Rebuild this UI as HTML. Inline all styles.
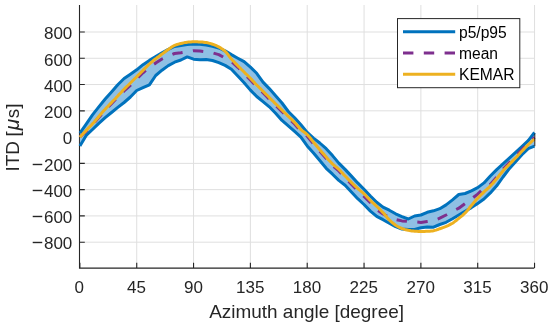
<!DOCTYPE html><html><head><meta charset="utf-8"><style>html,body{margin:0;padding:0;background:#fff}svg{display:block}</style></head><body><svg width="550" height="326" viewBox="0 0 550 326">
<rect width="550" height="326" fill="#fff"/>
<path d="M136.73 5.0V268.1M193.56 5.0V268.1M250.39 5.0V268.1M307.22 5.0V268.1M364.05 5.0V268.1M420.88 5.0V268.1M477.71 5.0V268.1M534.54 5.0V268.1M79.5 242.20H534.3M79.5 215.92H534.3M79.5 189.65H534.3M79.5 163.37H534.3M79.5 137.10H534.3M79.5 110.83H534.3M79.5 84.55H534.3M79.5 58.28H534.3M79.5 32.00H534.3" stroke="#dfdfdf" stroke-width="1" fill="none"/>
<path d="M79.5 5.0V268.1H534.3M79.90 268.1v-5.3M136.73 268.1v-5.3M193.56 268.1v-5.3M250.39 268.1v-5.3M307.22 268.1v-5.3M364.05 268.1v-5.3M420.88 268.1v-5.3M477.71 268.1v-5.3M534.54 268.1v-5.3M79.5 242.20h5.3M79.5 215.92h5.3M79.5 189.65h5.3M79.5 163.37h5.3M79.5 137.10h5.3M79.5 110.83h5.3M79.5 84.55h5.3M79.5 58.28h5.3M79.5 32.00h5.3" stroke="#262626" stroke-width="1.1" fill="none"/>
<polygon points="79.9,133.1 86.2,124.1 92.5,114.9 98.8,106.9 105.2,99.0 111.5,91.9 117.8,84.8 124.1,78.5 130.4,74.2 136.7,69.8 143.0,64.7 149.4,60.4 155.7,56.6 162.0,52.8 168.3,49.4 174.6,46.5 180.9,45.4 187.2,44.5 193.6,43.9 199.9,44.2 206.2,45.0 212.5,46.2 218.8,48.0 225.1,50.8 231.4,54.6 237.8,58.2 244.1,61.6 250.4,67.1 256.7,73.3 263.0,82.1 269.3,88.6 275.6,95.8 282.0,103.0 288.3,111.5 294.6,117.8 300.9,124.8 307.2,132.4 313.5,138.1 319.8,143.0 326.2,148.7 332.5,155.6 338.8,163.1 345.1,169.4 351.4,176.1 357.7,182.9 364.0,189.2 370.4,196.0 376.7,202.3 383.0,207.1 389.3,210.2 395.6,213.8 401.9,216.7 408.3,219.0 414.6,216.0 420.9,215.0 427.2,212.3 433.5,210.8 439.8,208.7 446.1,204.9 452.5,199.9 458.8,194.5 465.1,193.5 471.4,190.9 477.7,187.6 484.0,182.9 490.3,176.0 496.7,169.6 503.0,163.8 509.3,158.1 515.6,152.4 521.9,146.5 528.2,140.6 534.5,132.5 534.5,146.2 528.2,148.6 521.9,154.8 515.6,161.8 509.3,168.7 503.0,177.0 496.7,185.8 490.3,192.9 484.0,199.0 477.7,203.4 471.4,207.6 465.1,211.2 458.8,215.0 452.5,218.8 446.1,222.3 439.8,224.5 433.5,227.2 427.2,226.9 420.9,227.8 414.6,229.4 408.3,229.4 401.9,229.0 395.6,226.7 389.3,223.2 383.0,219.7 376.7,216.4 370.4,211.1 364.0,204.5 357.7,198.7 351.4,192.0 345.1,185.2 338.8,180.4 332.5,174.2 326.2,168.3 319.8,160.5 313.5,153.0 307.2,145.9 300.9,137.1 294.6,131.4 288.3,125.9 282.0,120.4 275.6,113.2 269.3,106.8 263.0,101.7 256.7,96.5 250.4,90.1 244.1,82.7 237.8,76.0 231.4,69.2 225.1,65.4 218.8,62.6 212.5,60.5 206.2,59.5 199.9,59.7 193.6,59.2 187.2,56.9 180.9,60.0 174.6,62.2 168.3,65.6 162.0,70.2 155.7,75.5 149.4,84.8 143.0,87.6 136.7,90.5 130.4,97.0 124.1,102.5 117.8,107.4 111.5,112.5 105.2,117.7 98.8,123.4 92.5,129.5 86.2,135.4 79.9,146.0" fill="#8fc0e4"/>
<polyline points="79.9,133.1 86.2,124.1 92.5,114.9 98.8,106.9 105.2,99.0 111.5,91.9 117.8,84.8 124.1,78.5 130.4,74.2 136.7,69.8 143.0,64.7 149.4,60.4 155.7,56.6 162.0,52.8 168.3,49.4 174.6,46.5 180.9,45.4 187.2,44.5 193.6,43.9 199.9,44.2 206.2,45.0 212.5,46.2 218.8,48.0 225.1,50.8 231.4,54.6 237.8,58.2 244.1,61.6 250.4,67.1 256.7,73.3 263.0,82.1 269.3,88.6 275.6,95.8 282.0,103.0 288.3,111.5 294.6,117.8 300.9,124.8 307.2,132.4 313.5,138.1 319.8,143.0 326.2,148.7 332.5,155.6 338.8,163.1 345.1,169.4 351.4,176.1 357.7,182.9 364.0,189.2 370.4,196.0 376.7,202.3 383.0,207.1 389.3,210.2 395.6,213.8 401.9,216.7 408.3,219.0 414.6,216.0 420.9,215.0 427.2,212.3 433.5,210.8 439.8,208.7 446.1,204.9 452.5,199.9 458.8,194.5 465.1,193.5 471.4,190.9 477.7,187.6 484.0,182.9 490.3,176.0 496.7,169.6 503.0,163.8 509.3,158.1 515.6,152.4 521.9,146.5 528.2,140.6 534.5,132.5" fill="none" stroke="#0072bd" stroke-width="3.0" stroke-linejoin="round"/>
<polyline points="79.9,146.0 86.2,135.4 92.5,129.5 98.8,123.4 105.2,117.7 111.5,112.5 117.8,107.4 124.1,102.5 130.4,97.0 136.7,90.5 143.0,87.6 149.4,84.8 155.7,75.5 162.0,70.2 168.3,65.6 174.6,62.2 180.9,60.0 187.2,56.9 193.6,59.2 199.9,59.7 206.2,59.5 212.5,60.5 218.8,62.6 225.1,65.4 231.4,69.2 237.8,76.0 244.1,82.7 250.4,90.1 256.7,96.5 263.0,101.7 269.3,106.8 275.6,113.2 282.0,120.4 288.3,125.9 294.6,131.4 300.9,137.1 307.2,145.9 313.5,153.0 319.8,160.5 326.2,168.3 332.5,174.2 338.8,180.4 345.1,185.2 351.4,192.0 357.7,198.7 364.0,204.5 370.4,211.1 376.7,216.4 383.0,219.7 389.3,223.2 395.6,226.7 401.9,229.0 408.3,229.4 414.6,229.4 420.9,227.8 427.2,226.9 433.5,227.2 439.8,224.5 446.1,222.3 452.5,218.8 458.8,215.0 465.1,211.2 471.4,207.6 477.7,203.4 484.0,199.0 490.3,192.9 496.7,185.8 503.0,177.0 509.3,168.7 515.6,161.8 521.9,154.8 528.2,148.6 534.5,146.2" fill="none" stroke="#0072bd" stroke-width="3.0" stroke-linejoin="round"/>
<polyline points="79.9,137.0 86.2,131.2 92.5,124.8 98.8,117.5 105.2,110.2 111.5,103.6 117.8,97.0 124.1,91.0 130.4,85.3 136.7,79.0 143.0,72.8 149.4,67.0 155.7,63.1 162.0,59.0 168.3,56.2 174.6,53.5 180.9,52.7 187.2,51.7 193.6,50.7 199.9,51.1 206.2,51.8 212.5,52.8 218.8,54.6 225.1,58.0 231.4,61.5 237.8,67.3 244.1,73.6 250.4,79.9 256.7,86.6 263.0,92.8 269.3,99.2 275.6,105.4 282.0,111.6 288.3,117.9 294.6,124.0 300.9,131.2 307.2,136.2 313.5,143.8 319.8,151.3 326.2,158.6 332.5,165.5 338.8,170.9 345.1,177.6 351.4,184.2 357.7,190.7 364.0,196.4 370.4,202.6 376.7,209.6 383.0,213.9 389.3,217.2 395.6,219.5 401.9,220.9 408.3,221.5 414.6,221.9 420.9,222.4 427.2,221.6 433.5,220.7 439.8,218.2 446.1,215.0 452.5,211.4 458.8,208.2 465.1,203.6 471.4,199.0 477.7,194.1 484.0,188.1 490.3,184.4 496.7,177.1 503.0,169.3 509.3,162.8 515.6,156.4 521.9,149.6 528.2,143.1 534.5,137.4" fill="none" stroke="#7e2f8e" stroke-width="3.0" stroke-dasharray="10.42 10.42" stroke-dashoffset="0" stroke-linejoin="round"/>
<polyline points="79.9,137.2 81.2,135.8 82.4,134.5 83.7,133.1 85.0,131.7 86.2,130.4 87.5,129.1 88.7,127.8 90.0,126.5 91.3,125.2 92.5,123.8 93.8,122.4 95.1,120.9 96.3,119.5 97.6,118.0 98.8,116.5 100.1,115.0 101.4,113.5 102.6,112.1 103.9,110.6 105.2,109.2 106.4,107.8 107.7,106.5 108.9,105.2 110.2,103.9 111.5,102.6 112.7,101.3 114.0,100.0 115.3,98.7 116.5,97.3 117.8,96.0 119.0,94.6 120.3,93.3 121.6,91.9 122.8,90.5 124.1,89.2 125.4,87.9 126.6,86.7 127.9,85.5 129.2,84.2 130.4,83.0 131.7,81.7 132.9,80.5 134.2,79.2 135.5,78.0 136.7,76.7 138.0,75.4 139.3,74.2 140.5,72.9 141.8,71.7 143.0,70.4 144.3,69.1 145.6,67.8 146.8,66.5 148.1,65.2 149.4,64.0 150.6,62.9 151.9,61.8 153.1,60.8 154.4,59.8 155.7,58.8 156.9,57.8 158.2,56.9 159.5,56.0 160.7,55.0 162.0,54.1 163.3,53.1 164.5,52.2 165.8,51.2 167.0,50.3 168.3,49.4 169.6,48.5 170.8,47.6 172.1,46.8 173.4,46.0 174.6,45.4 175.9,44.9 177.1,44.5 178.4,44.1 179.7,43.8 180.9,43.5 182.2,43.2 183.5,42.9 184.7,42.6 186.0,42.4 187.2,42.2 188.5,42.1 189.8,42.0 191.0,41.9 192.3,41.8 193.6,41.8 194.8,41.8 196.1,41.8 197.3,41.8 198.6,41.9 199.9,41.9 201.1,42.0 202.4,42.1 203.7,42.2 204.9,42.4 206.2,42.6 207.5,42.8 208.7,43.1 210.0,43.4 211.2,43.8 212.5,44.2 213.8,44.6 215.0,45.1 216.3,45.7 217.6,46.3 218.8,46.9 220.1,47.6 221.3,48.4 222.6,49.3 223.9,50.2 225.1,51.3 226.4,52.6 227.7,54.2 228.9,55.9 230.2,57.6 231.4,59.1 232.7,60.5 234.0,61.8 235.2,63.1 236.5,64.4 237.8,65.7 239.0,67.0 240.3,68.2 241.5,69.5 242.8,70.7 244.1,72.0 245.3,73.3 246.6,74.5 247.9,75.8 249.1,77.0 250.4,78.3 251.7,79.6 252.9,81.0 254.2,82.3 255.4,83.7 256.7,85.0 258.0,86.3 259.2,87.5 260.5,88.7 261.8,90.0 263.0,91.2 264.3,92.5 265.5,93.8 266.8,95.0 268.1,96.3 269.3,97.6 270.6,98.9 271.9,100.1 273.1,101.3 274.4,102.6 275.6,103.8 276.9,105.0 278.2,106.3 279.4,107.5 280.7,108.8 282.0,110.0 283.2,111.3 284.5,112.5 285.8,113.8 287.0,115.1 288.3,116.3 289.5,117.5 290.8,118.7 292.1,119.9 293.3,121.1 294.6,122.4 295.9,123.8 297.1,125.3 298.4,126.8 299.6,128.3 300.9,129.6 302.2,130.7 303.4,131.6 304.7,132.5 306.0,133.5 307.2,134.6 308.5,135.9 309.7,137.4 311.0,139.0 312.3,140.6 313.5,142.2 314.8,143.7 316.1,145.2 317.3,146.7 318.6,148.2 319.8,149.7 321.1,151.2 322.4,152.7 323.6,154.1 324.9,155.6 326.2,157.0 327.4,158.4 328.7,159.9 330.0,161.3 331.2,162.6 332.5,163.9 333.7,165.0 335.0,166.1 336.3,167.1 337.5,168.2 338.8,169.3 340.1,170.6 341.3,171.9 342.6,173.3 343.8,174.7 345.1,176.0 346.4,177.3 347.6,178.6 348.9,179.9 350.2,181.1 351.4,182.4 352.7,183.7 353.9,184.9 355.2,186.1 356.5,187.3 357.7,188.5 359.0,189.6 360.3,190.6 361.5,191.6 362.8,192.7 364.1,193.8 365.3,195.0 366.6,196.4 367.8,197.7 369.1,199.1 370.4,200.4 371.6,201.6 372.9,202.8 374.2,203.9 375.4,205.1 376.7,206.3 377.9,207.5 379.2,208.7 380.5,210.0 381.7,211.3 383.0,212.6 384.3,214.0 385.5,215.6 386.8,217.1 388.0,218.6 389.3,219.9 390.6,221.1 391.8,222.3 393.1,223.3 394.4,224.3 395.6,225.2 396.9,226.0 398.1,226.7 399.4,227.4 400.7,228.0 401.9,228.5 403.2,228.9 404.5,229.4 405.7,229.7 407.0,230.0 408.3,230.3 409.5,230.5 410.8,230.8 412.0,231.0 413.3,231.1 414.6,231.2 415.8,231.3 417.1,231.3 418.4,231.4 419.6,231.4 420.9,231.4 422.1,231.4 423.4,231.4 424.7,231.4 425.9,231.3 427.2,231.3 428.5,231.2 429.7,231.2 431.0,231.0 432.2,230.9 433.5,230.7 434.8,230.4 436.0,230.1 437.3,229.6 438.6,229.2 439.8,228.7 441.1,228.3 442.3,227.8 443.6,227.4 444.9,226.9 446.1,226.4 447.4,225.8 448.7,225.3 449.9,224.6 451.2,223.9 452.5,223.2 453.7,222.4 455.0,221.4 456.2,220.5 457.5,219.4 458.8,218.4 460.0,217.4 461.3,216.4 462.6,215.3 463.8,214.2 465.1,213.0 466.3,211.7 467.6,210.2 468.9,208.6 470.1,207.0 471.4,205.5 472.7,204.0 473.9,202.5 475.2,201.0 476.4,199.6 477.7,198.2 479.0,196.9 480.2,195.6 481.5,194.3 482.8,193.1 484.0,191.9 485.3,190.7 486.6,189.6 487.8,188.4 489.1,187.3 490.3,186.0 491.6,184.6 492.9,183.2 494.1,181.7 495.4,180.2 496.7,178.7 497.9,177.2 499.2,175.5 500.4,173.9 501.7,172.4 503.0,170.9 504.2,169.5 505.5,168.2 506.8,166.9 508.0,165.7 509.3,164.4 510.5,163.1 511.8,161.9 513.1,160.6 514.3,159.3 515.6,158.0 516.9,156.7 518.1,155.3 519.4,153.9 520.6,152.5 521.9,151.2 523.2,149.9 524.4,148.5 525.7,147.2 527.0,145.9 528.2,144.7 529.5,143.5 530.8,142.3 532.0,141.2 533.3,140.1 534.5,139.0" fill="none" stroke="#edb120" stroke-width="3.0" stroke-linejoin="round"/>
<path d="M534.8 133.5V146.2" stroke="#111" stroke-width="0.9" fill="none"/>
<g font-family="Liberation Sans, Arial, Helvetica, sans-serif" fill="#262626">
<g font-size="17" text-anchor="middle">
<text x="79.3" y="293">0</text>
<text x="136.5" y="293">45</text>
<text x="193.4" y="293">90</text>
<text x="250.2" y="293">135</text>
<text x="307.0" y="293">180</text>
<text x="363.8" y="293">225</text>
<text x="420.7" y="293">270</text>
<text x="477.5" y="293">315</text>
<text x="534.3" y="293">360</text>
</g><g font-size="17" text-anchor="end">
<text x="72.3" y="249.4"><tspan font-size="19.6">−</tspan><tspan dx="0.7">800</tspan></text>
<text x="72.3" y="223.1"><tspan font-size="19.6">−</tspan><tspan dx="0.7">600</tspan></text>
<text x="72.3" y="196.8"><tspan font-size="19.6">−</tspan><tspan dx="0.7">400</tspan></text>
<text x="72.3" y="170.6"><tspan font-size="19.6">−</tspan><tspan dx="0.7">200</tspan></text>
<text x="72.3" y="144.3">0</text>
<text x="72.3" y="118.0">200</text>
<text x="72.3" y="91.8">400</text>
<text x="72.3" y="65.5">600</text>
<text x="72.3" y="39.2">800</text>
</g>
<text x="306.6" y="318" font-size="18.95" text-anchor="middle">Azimuth angle [degree]</text>
<text transform="translate(19.2,171.6) rotate(-90)" font-size="18.95">ITD<tspan dx="-0.7"> [</tspan><tspan font-style="italic" font-size="20.8" dx="1.1">μ</tspan><tspan dx="0.6">s]</tspan></text>
<rect x="397.5" y="18.6" width="122.3" height="69.1" fill="#fff" stroke="#262626" stroke-width="1"/>
<g font-size="15.6">
<path d="M403 31.85H455.2" stroke="#0072bd" stroke-width="3.0" fill="none"/>
<text x="459" y="37.6" fill="#000">p5/p95</text>
<path d="M403 53.05H455.2" stroke="#7e2f8e" stroke-width="3.0" stroke-dasharray="10.4 10.4" fill="none"/>
<text x="459" y="58.8" fill="#000">mean</text>
<path d="M403 74.35H455.2" stroke="#edb120" stroke-width="3.0" fill="none"/>
<text x="459" y="80.1" fill="#000">KEMAR</text>
</g></g></svg></body></html>
